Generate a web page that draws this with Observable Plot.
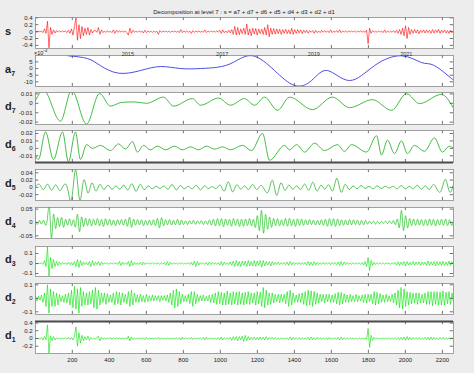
<!DOCTYPE html>
<html><head><meta charset="utf-8">
<script src="https://cdn.jsdelivr.net/npm/d3@7"></script>
<script src="https://cdn.jsdelivr.net/npm/@observablehq/plot@0.6"></script>
<style>
body{margin:0;background:#ededed;}
#fig{position:relative;width:474px;height:373px;background:#ededed;overflow:hidden;font-family:"Liberation Sans",Arial,sans-serif;color:#222;}
.panel{position:absolute;left:0;}
.panel svg{overflow:visible;}
.lab{position:absolute;left:5px;font-weight:bold;font-size:11px;line-height:11px;}
.lab sub{font-size:7px;vertical-align:-3px;}
#title{position:absolute;left:35px;width:418px;top:9px;text-align:center;font-size:6px;}
#expo{position:absolute;left:34px;top:48px;font-size:5.5px;}
#expo sup{font-size:4.5px;}
</style></head><body><div id="fig">
<div id="title">Decomposition at level 7 : s = a7 + d7 + d6 + d5 + d4 + d3 + d2 + d1</div>
<div id="expo">×10<sup>-3</sup></div>
</div>
<script>
const XMIN = 1, XMAX = 2260;
const X_TICKS = [200,400,600,800,1000,1200,1400,1600,1800,2000,2200];
const YEAR_LABELS = ["2015","2017","2019","2021"];
const YEAR_SAMPLES = [500,1010,1505,2005];

const S_VALS = [
.01,-.02,.015,-.01,.02,-.03,.08,-.05,.3,-.47,.12,-.08,.05,-.04,.03,-.02,.025,-.015,.02,-.01,
.02,-.03,.04,-.05,.08,-.1,.15,.4,-.25,.2,-.2,.15,-.12,.1,-.08,.12,-.1,.06,-.04,.03,
.03,-.02,.12,-.08,.05,-.03,.02,-.025,.03,-.02,.015,-.03,.05,-.05,.04,-.02,.015,-.01,.02,-.015,
.02,-.03,-.1,.1,-.05,.04,-.02,.015,-.02,.025,-.015,.02,-.04,.04,-.03,.02,-.015,.01,-.02,.015,
-.02,.015,-.08,.03,-.02,.015,-.01,.02,-.015,.01,-.02,.015,-.01,.02,-.015,.02,-.03,.06,-.03,.02,
-.015,.02,-.02,.015,-.05,.03,-.02,.015,-.01,.02,-.015,.01,-.02,.05,-.03,.02,-.015,.02,-.01,.015,
-.02,.03,-.02,.04,-.05,.05,-.03,.02,-.03,.04,-.04,.06,-.08,.15,-.1,.12,-.09,.08,-.06,.1,
-.08,.22,-.1,.08,-.12,.1,-.07,.09,-.1,.08,-.06,.07,-.08,.12,-.1,.2,-.15,.1,-.08,.09,
-.07,.08,-.06,.07,-.08,.06,-.05,.07,-.06,.05,-.07,.1,-.08,.06,-.05,.06,-.04,.05,-.06,.04,
-.03,.04,-.05,.03,-.02,.03,-.05,.04,-.03,.02,-.03,.04,-.02,.03,-.02,.025,-.03,.05,-.03,.02,
-.02,.03,-.025,.05,-.03,.02,-.015,.02,-.02,.015,-.01,.02,-.015,.02,-.02,.015,-.01,.02,-.015,.01,
-.02,.04,-.35,.1,-.05,.03,-.02,.015,-.02,.02,-.015,.02,-.03,.05,-.03,.02,-.02,.015,-.02,.03,
-.03,.04,-.05,.06,-.08,.1,-.12,.17,-.2,.12,-.08,.06,-.05,.06,-.04,.05,-.06,.04,-.03,.05,
-.04,.05,-.03,.04,-.05,.06,-.04,.05,-.03,.07,-.05,.04,-.03,.05,-.04,.03,-.05,.04,-.03,.02];

const A7_SAMPLES = [179,282,352,450,568,676,785,893,985,1071,1174,1293,1401,1493,1579,1698,1833,1979,2087,2157,2249,2260];
const A7_VALS = [9.5,7.5,2.2,-3.5,-1.5,1.5,0,0,1,4.7,9.6,-1.5,-12.7,-9,-1.5,-9,2.2,9.6,4.5,2.2,-7.5,-8];

const D7_SAMPLES = [1,44,136,196,277,347,406,466,536,601,693,747,849,893,990,1055,1130,1185,1239,1309,1374,1498,1606,1698,1822,1925,2006,2076,2195,2260];
const D7_VALS = [.003,.014,-.019,.014,-.022,.0105,-.003,.001,.0015,0,.0066,-.003,.005,-.002,.0056,-.002,.005,-.002,.0066,-.0074,.0066,-.0067,.0066,-.0046,.0039,-.0074,.0102,-.0003,.0095,-.0053];

const D6_SAMPLES = [1,17,55,98,147,179,217,244,277,309,352,406,450,487,525,552,585,622,660,704,752,795,839,882,925,968,1012,1055,1120,1168,1228,1266,1347,1374,1412,1455,1509,1563,1633,1671,1709,1790,1844,1871,1903,1941,1979,2011,2049,2103,2157,2200,2238,2260];
const D6_VALS = [-.01,-.015,.022,-.015,.022,-.018,.022,-.015,.005,0,.004,-.003,.006,-.001,.009,-.005,.004,-.002,.003,-.002,.003,-.002,.002,-.002,.003,-.001,.002,-.002,.004,-.003,.02,-.016,.004,-.002,.005,-.005,.007,-.003,.005,-.004,.005,-.005,.017,-.009,.011,-.007,.01,-.007,.004,-.004,.014,-.005,.003,0];

const D5_VALS = [.002,.008,-.006,.009,-.008,.007,-.009,.006,-.004,-.033,.048,-.035,.02,-.015,.012,-.01,.008,-.006,.006,-.005,
.004,-.005,.006,-.007,.01,-.011,.008,-.006,.004,-.004,.003,-.003,.004,-.005,.008,-.007,.005,-.004,.003,-.004,
.006,-.007,.004,-.003,.002,-.003,.006,-.01,.015,-.012,.007,-.005,.004,-.006,.008,-.006,.005,-.007,-.01,.019,
-.022,.012,-.008,.006,-.005,.004,-.006,.009,-.008,.014,-.01,.006,-.005,.007,-.009,.025,-.013,.008,-.006,.004,
-.004,.005,-.003,.003,-.004,.004,-.003,.003,-.002,.003,-.004,.005,-.004,.003,-.004,.006,-.005,.004,-.006,.008,
-.007,-.008,.022,-.012,.008];

const D4_VALS = [
.004,-.007,.008,-.006,.009,-.01,.018,.054,-.06,.03,-.022,.018,-.015,.02,-.018,
.012,-.01,.014,-.012,.01,-.016,.03,-.035,.02,-.015,.016,-.012,.014,-.013,.012,
-.01,.015,-.013,.012,-.015,.014,-.01,.012,-.011,.009,-.012,.01,-.008,.011,-.01,
.012,-.014,.02,-.018,.012,-.01,.011,-.009,.01,-.012,.008,-.01,.009,-.011,.01,
-.012,.015,-.02,.018,-.012,.01,-.009,.011,-.01,.008,-.009,.012,-.01,.009,-.008,
.006,-.008,.007,-.006,.008,-.007,.006,-.005,.007,-.008,.006,-.007,.009,-.01,.012,
-.013,.015,-.012,.014,-.016,.013,-.011,.012,-.014,.015,-.012,.013,-.015,.012,-.014,
.013,-.012,.015,-.013,.012,-.018,.025,-.03,.045,-.04,.03,-.025,.02,-.018,.015,
-.012,.014,-.013,.01,-.012,.015,-.014,.016,-.013,.012,-.015,.014,-.012,.013,-.011,
.01,-.009,.011,-.008,.009,-.01,.008,-.009,.01,-.011,.012,-.014,.015,-.013,.014,
-.015,.013,-.012,.01,-.011,.009,-.01,.011,-.009,.01,-.008,.009,-.01,.008,-.009,
.008,-.006,.005,-.004,.005,-.006,.004,-.005,.004,-.003,.005,-.004,.006,-.005,.007,
-.008,.012,-.018,.045,-.03,.025,-.02,.015,-.012,.013,-.011,.012,-.01,.011,-.012,
.011,-.012,.013,-.011,.012,-.013,.011,-.01,.012,-.011,.013,-.012,.01,-.011,.008];

const D3_VALS = [
.004,-.005,.006,-.004,.008,-.01,.03,-.03,.17,-.13,.06,-.05,.04,-.03,.02,-.02,.015,-.012,.01,-.008,
.008,-.01,.015,-.012,.01,-.015,.02,-.03,.04,-.04,.03,-.02,.015,-.012,.01,-.015,.02,-.03,.03,-.02,
.015,-.012,.02,-.02,.015,-.01,.008,-.006,.005,-.008,.01,-.008,.006,-.005,.008,-.01,.02,-.02,.015,-.01,
.008,-.01,.02,-.03,.03,-.02,.012,-.01,.008,-.01,.012,-.015,.015,-.01,.008,-.006,.005,-.006,.008,-.006,
.005,-.006,.008,-.01,.008,-.006,.012,-.015,.02,-.02,.012,-.01,.008,-.006,.005,-.008,.006,-.005,.008,-.006,
.005,-.006,.008,-.01,.012,-.015,.025,-.03,.02,-.015,.01,-.008,.006,-.008,.01,-.015,.015,-.012,.01,-.008,
.006,-.008,.01,-.015,.02,-.02,.015,-.01,.008,-.012,.015,-.02,.025,-.03,.03,-.025,.02,-.03,.025,-.02,
.025,-.03,.03,-.025,.02,-.025,.03,-.03,.025,-.02,.03,-.035,.03,-.025,.02,-.015,.02,-.025,.02,-.015,
.012,-.01,.015,-.012,.01,-.008,.01,-.012,.015,-.02,.02,-.015,.012,-.01,.008,-.01,.012,-.01,.008,-.01,
.012,-.015,.02,-.02,.015,-.02,.018,-.015,.012,-.01,.008,-.01,.012,-.01,.008,-.006,.01,-.012,.01,-.008,
.01,-.012,.015,-.02,.02,-.018,.015,-.012,.01,-.008,.006,-.008,.01,-.008,.006,-.005,.006,-.008,.01,-.015,
.02,-.03,.06,-.07,.03,-.02,.012,-.01,.008,-.006,.005,-.006,.008,-.006,.005,-.004,.006,-.008,.01,-.008,
.012,-.015,.018,-.02,.015,-.012,.02,-.025,.02,-.015,.012,-.015,.02,-.018,.015,-.012,.018,-.02,.015,-.012,
.015,-.02,.025,-.02,.018,-.015,.02,-.025,.02,-.015,.018,-.02,.022,-.018,.015,-.02,.025,-.02,.018,-.015];

const D2_VALS = [
.015,-.02,.018,-.015,.025,-.03,.04,-.06,.1,-.11,.07,-.06,.05,-.06,.04,-.05,.03,-.025,.02,-.03,
.03,-.035,.04,-.05,.06,-.07,.09,-.08,.07,-.11,.08,-.06,.05,-.05,.04,-.05,.05,-.04,.06,-.07,
.08,-.08,.06,-.05,.04,-.03,.04,-.045,.035,-.03,.025,-.03,.04,-.05,.05,-.04,.045,-.05,.04,-.03,
.03,-.04,.05,-.06,.06,-.05,.04,-.03,.025,-.03,.03,-.025,.02,-.03,.03,-.025,.02,-.02,.025,-.02,
.02,-.015,.02,-.025,.02,-.015,.02,-.02,.025,-.03,.04,-.05,.06,-.07,.07,-.06,.05,-.04,.03,-.025,
.02,-.025,.03,-.04,.05,-.06,.05,-.04,.03,-.025,.02,-.02,.025,-.02,.015,-.02,.025,-.03,.03,-.035,
.04,-.045,.05,-.04,.045,-.05,.04,-.05,.055,-.045,.04,-.05,.05,-.04,.045,-.05,.05,-.045,.04,-.05,
.045,-.04,.05,-.045,.04,-.035,.04,-.05,.05,-.04,.045,-.06,.08,-.07,.06,-.05,.04,-.045,.04,-.035,
.03,-.025,.03,-.035,.03,-.025,.03,-.04,.05,-.06,.06,-.05,.04,-.03,.025,-.03,.035,-.03,.04,-.045,
.05,-.055,.06,-.05,.055,-.06,.05,-.045,.04,-.035,.03,-.025,.03,-.035,.03,-.025,.03,-.03,.025,-.03,
.035,-.04,.045,-.05,.045,-.04,.035,-.03,.025,-.03,.03,-.025,.02,-.025,.03,-.025,.02,-.02,.025,-.03,
.03,-.035,.03,-.025,.03,-.04,.05,-.05,.045,-.04,.035,-.03,.025,-.03,.03,-.025,.02,-.025,.03,-.035,
.04,-.05,.06,-.07,.08,-.08,.07,-.06,.05,-.05,.045,-.04,.04,-.035,.04,-.045,.04,-.035,.03,-.035,
.04,-.045,.05,-.045,.05,-.055,.05,-.045,.05,-.05,.045,-.05,.055,-.05,.045,-.04,.05,-.045,.04,-.035];

const D1_VALS = [
.005,-.01,.008,-.012,.02,-.04,.05,-.03,.35,-.38,.07,-.06,.05,-.04,.02,-.015,.01,-.012,.008,-.01,
.015,-.02,.03,-.025,.02,-.04,.05,.3,-.2,.15,-.12,.08,-.06,.05,-.04,.06,-.05,.03,-.02,.015,
-.02,.03,.06,-.06,.03,-.02,.01,-.015,.012,-.01,.03,-.03,.02,-.012,.01,-.008,.012,-.01,.008,-.01,
.012,-.015,.06,-.06,.04,-.03,.015,-.012,.01,-.008,.01,-.012,.02,-.03,.03,-.02,.012,-.01,.008,-.01,
.01,-.012,.03,-.03,.015,-.01,.008,-.012,.01,-.008,.012,-.01,.008,-.01,.012,-.015,.02,-.04,.04,-.02,
.012,-.01,.015,-.02,.03,-.03,.02,-.012,.01,-.008,.012,-.02,.03,-.04,.04,-.02,.015,-.01,.008,-.012,
.01,-.015,.02,-.03,.04,-.04,.02,-.015,.012,-.02,.03,-.05,.05,-.04,.05,-.06,.05,-.04,.06,-.08,
.08,-.06,.05,-.04,.03,-.03,.04,-.035,.03,-.04,.04,-.03,.035,-.04,.045,-.03,.025,-.02,.03,-.025,
.02,-.015,.012,-.02,.015,-.012,.01,-.015,.02,-.03,.04,-.04,.03,-.02,.015,-.02,.025,-.03,.02,-.015,
.012,-.02,.03,-.04,.04,-.03,.02,-.03,.03,-.02,.015,-.012,.01,-.015,.02,-.03,.03,-.02,.015,-.01,
.012,-.02,.03,-.04,.04,-.03,.02,-.015,.012,-.02,.02,-.015,.01,-.012,.015,-.02,.02,-.015,.012,-.01,
.012,-.02,.26,-.23,.08,-.05,.03,-.02,.015,-.012,.01,-.015,.012,-.01,.015,-.012,.02,-.015,.01,-.012,
.015,-.02,.025,-.03,.03,-.035,.04,-.05,.05,-.04,.03,-.03,.025,-.02,.02,-.025,.03,-.02,.015,-.02,
.025,-.03,.03,-.04,.04,-.035,.03,-.025,.02,-.03,.025,-.02,.03,-.025,.02,-.025,.02,-.015,.02,-.015];

const S_TICKS = [-0.4,-0.2,0,0.2,0.4];
const A7_TICKS = [-10,-5,0,5];
const D7_TICKS = [-0.02,-0.01,0,0.01];
const D6_TICKS = [-0.01,0,0.01,0.02];
const D5_TICKS = [-0.02,0,0.02,0.04];
const D4_TICKS = [-0.05,0,0.05];
const D3_TICKS = [-0.1,0,0.1];
const D2_TICKS = [-0.1,0,0.1];
const D1_TICKS = [-0.2,0,0.2,0.4];

function uniform(vals){const n=vals.length;return vals.map((v,i)=>({x:XMIN+i*(XMAX-XMIN)/(n-1),y:v}));}
function pairs(xs,ys){return xs.map((x,i)=>({x,y:ys[i]}));}

const fig = document.getElementById("fig");
function label(name, sub, top){
  const d=document.createElement("div");d.className="lab";d.style.top=top+"px";
  d.innerHTML=name+(sub?"<sub>"+sub+"</sub>":"");fig.appendChild(d);
}

function panel(p){
  const mt=p.mt??6, mb=p.mb??6, h=p.bottom-p.top;
  const [y0,y1]=p.domain;
  const ty=(y1-y0)*0.1, tx=(XMAX-XMIN)*0.008;
  const tk={stroke:"#333",strokeWidth:0.7};
  const marks=[
    Plot.frame({fill:"white",stroke:null}),
    Plot.line(p.data,{x:"x",y:"y",stroke:p.stroke,strokeWidth:p.sw,curve:p.curve,clip:true}),
    Plot.ruleX(X_TICKS,{y1:y0,y2:y0+ty,...tk}),
    Plot.ruleX(X_TICKS,{y1:y1,y2:y1-ty,...tk}),
    Plot.ruleY(p.ticks,{x1:XMIN,x2:XMIN+tx,...tk}),
    Plot.ruleY(p.ticks,{x1:XMAX,x2:XMAX-tx,...tk}),
    Plot.frame({stroke:"#8a8a8a",strokeWidth:0.8}),
    Plot.axisY({ticks:p.ticks,tickSize:0,tickPadding:3,tickFormat:d=>String(d),fontSize:6,fill:"#222",label:null})
  ];
  if(p.thickBottom) marks.push(Plot.ruleY([y0],{stroke:"#4a4a4a",strokeWidth:2}));
  if(p.thickTop) marks.push(Plot.ruleY([y1],{stroke:"#4a4a4a",strokeWidth:2}));
  if(p.years) marks.push(Plot.text(YEAR_LABELS,{x:(d,i)=>YEAR_SAMPLES[i],frameAnchor:"top",dy:-3,text:d=>d,fontSize:5.5,fill:"#333"}));
  if(p.xaxis) marks.push(Plot.axisX({ticks:X_TICKS,tickSize:0,tickPadding:4,tickFormat:d=>String(d),fontSize:6,fill:"#222",label:null}));
  const chart=Plot.plot({
    width:474,height:h+mt+mb,marginLeft:35,marginRight:21,marginTop:mt,marginBottom:mb,
    x:{domain:[XMIN,XMAX],label:null,...(p.xaxis?{}:{axis:null})},
    y:{domain:p.domain,label:null},
    style:{background:"transparent",fontFamily:"Liberation Sans, Arial, sans-serif"},
    marks
  });
  const wrap=document.createElement("div");wrap.className="panel";wrap.style.top=(p.top-mt)+"px";
  wrap.appendChild(chart);fig.appendChild(wrap);
  label(p.name,p.sub,(p.top+p.bottom)/2-7);
}

const GREEN_SMOOTH="#2fb42f", GREEN_NOISE="#00e000";
panel({name:"s",sub:"",top:17,bottom:48,domain:[-0.49,0.41],ticks:S_TICKS,data:uniform(S_VALS),stroke:"#ff0000",sw:0.6,curve:"linear"});
panel({name:"a",sub:"7",top:55,bottom:86,domain:[-13.5,9.8],ticks:A7_TICKS,data:pairs(A7_SAMPLES,A7_VALS),stroke:"#3a3ae0",sw:0.9,curve:"natural",years:true,mt:9});
panel({name:"d",sub:"7",top:92,bottom:124,domain:[-0.0225,0.0115],ticks:D7_TICKS,data:pairs(D7_SAMPLES,D7_VALS),stroke:GREEN_SMOOTH,sw:0.9,curve:"monotone-x"});
panel({name:"d",sub:"6",top:130,bottom:162,domain:[-0.019,0.024],ticks:D6_TICKS,data:pairs(D6_SAMPLES,D6_VALS),stroke:GREEN_SMOOTH,sw:0.9,curve:"monotone-x",thickBottom:true});
panel({name:"d",sub:"5",top:169,bottom:200,domain:[-0.036,0.049],ticks:D5_TICKS,data:uniform(D5_VALS),stroke:GREEN_SMOOTH,sw:0.8,curve:"natural"});
panel({name:"d",sub:"4",top:207,bottom:238,domain:[-0.06,0.056],ticks:D4_TICKS,data:uniform(D4_VALS),stroke:"#18c018",sw:0.7,curve:"natural"});
panel({name:"d",sub:"3",top:246,bottom:276,domain:[-0.13,0.17],ticks:D3_TICKS,data:uniform(D3_VALS),stroke:GREEN_NOISE,sw:0.6,curve:"linear"});
panel({name:"d",sub:"2",top:283,bottom:314,domain:[-0.12,0.11],ticks:D2_TICKS,data:uniform(D2_VALS),stroke:GREEN_NOISE,sw:0.6,curve:"linear"});
panel({name:"d",sub:"1",top:321,bottom:353,domain:[-0.39,0.44],ticks:D1_TICKS,data:uniform(D1_VALS),stroke:GREEN_NOISE,sw:0.6,curve:"linear",thickTop:true,xaxis:true,mb:16});
</script></body></html>
